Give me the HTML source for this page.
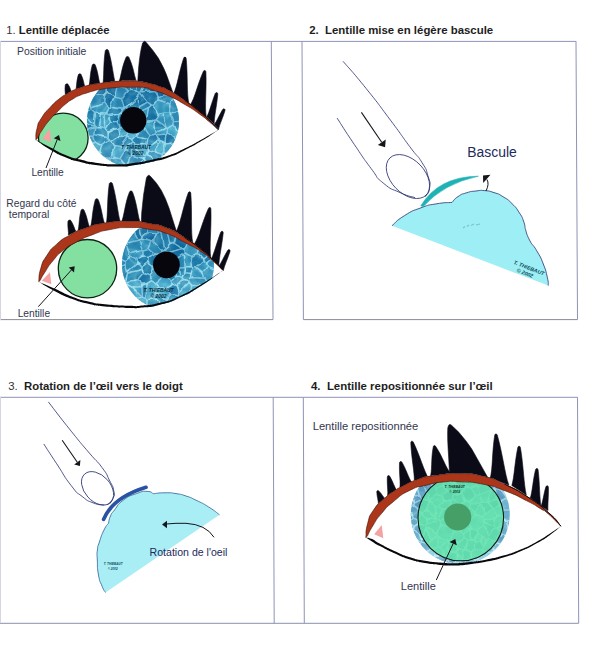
<!DOCTYPE html>
<html lang="fr"><head><meta charset="utf-8"><title>Repositionnement d'une lentille déplacée</title>
<style>
html,body{margin:0;padding:0;background:#fff}
svg{display:block}
text{font-family:"Liberation Sans",Arial,sans-serif}
</style></head><body>
<svg width="600" height="662" viewBox="0 0 600 662">
<defs>
<linearGradient id="irisg" x1="0" y1="0" x2="0" y2="1"><stop offset="0" stop-color="#0a4a8a" stop-opacity="0.32"/><stop offset="0.45" stop-color="#0a4a8a" stop-opacity="0.05"/><stop offset="1" stop-color="#ffffff" stop-opacity="0.12"/></linearGradient>
<filter id="soft" x="-5%" y="-5%" width="110%" height="110%" color-interpolation-filters="sRGB"><feTurbulence type="fractalNoise" baseFrequency="0.09" numOctaves="2" seed="3" result="t"/><feDisplacementMap in="SourceGraphic" in2="t" scale="5" xChannelSelector="R" yChannelSelector="G"/><feGaussianBlur stdDeviation="0.65"/></filter>
<filter id="water" x="0" y="0" width="100%" height="100%" color-interpolation-filters="sRGB">
  <feTurbulence type="turbulence" baseFrequency="0.07" numOctaves="2" seed="11" result="n"/>
  <feColorMatrix in="n" type="matrix" values="1.8 0 0 0 0  1.8 0 0 0 0  1.8 0 0 0 0  0 0 0 0 1"/>
  <feComponentTransfer>
    <feFuncR type="table" tableValues="0.72 0.55 0.40 0.28 0.20 0.15 0.12"/>
    <feFuncG type="table" tableValues="0.96 0.88 0.78 0.68 0.59 0.52 0.47"/>
    <feFuncB type="table" tableValues="0.98 0.94 0.88 0.82 0.76 0.71 0.67"/>
  </feComponentTransfer>
  <feGaussianBlur stdDeviation="0.7"/>
</filter>

<clipPath id="eyeclip1"><path d="M35.8,139.8C36.2,136 35.1,135.8 37,128.5C38.9,121.2 37,125.2 41.5,118C46,110.8 44.3,113.6 50.5,107C56.7,100.4 54.6,102.6 60,98.3C65.4,94 62.3,96.7 66.7,94C71.1,91.3 68.9,92.4 73.3,90.3C77.7,88.2 75.5,89.2 80,87.7C84.5,86.2 82.3,86.8 86.7,85.7C91.1,84.6 88.9,85.1 93.3,84.3C97.7,83.5 92.8,84.2 100,83.3C107.2,82.4 105,82.3 115,81.5C125,80.7 121.7,80.8 130,80.8C138.3,80.8 132.8,80.6 140,81.6C147.2,82.6 145,82.3 151.7,83.9C158.4,85.5 154.5,84.5 160,86.5C165.5,88.5 160,85.3 168.3,90C176.6,94.7 174.4,93.2 185,100.5C195.6,107.8 191.7,105.2 200,112C208.3,118.8 203.9,115.1 210,121C216.1,126.9 215.5,126.7 218.3,129.6C212.8,133.5 212.8,134.1 201.7,140.8C190.6,147.5 196.1,144.4 185,150C173.9,155.6 179.4,153.6 168.3,157.5C157.2,161.4 162.8,159.3 151.7,161.8C140.6,164.3 146.2,163.4 135,165C123.8,166.6 131.2,166.6 118,166.6C104.8,166.6 108,166.5 95.5,165C83,163.5 90.5,164.6 80.5,162C70.5,159.4 75.5,161.4 65.5,157.3C55.5,153.2 60.4,155.6 50.5,149.8C40.6,144 40.7,143.1 35.8,139.8Z"/></clipPath>
<clipPath id="eyeclip2"><path d="M38.7,281.7C39.4,277.2 38.1,276.9 40.8,268.3C43.5,259.7 41.4,263.8 46.7,255.8C52,247.8 48.9,251.1 56.7,244.2C64.5,237.3 60.6,240.3 70,235C79.4,229.7 73.3,232.3 85,228.3C96.7,224.3 90,225.3 105,223C120,220.7 115.6,221.2 130,221.3C144.4,221.4 136.1,221 148.3,223.2C160.5,225.4 154.5,222.9 166.7,227.8C178.9,232.7 173.9,230.9 185,237.8C196.1,244.7 191,241.4 200,248.5C209,255.6 204.3,251.8 212,259C219.7,266.2 219.3,266.5 223,270.2C215.3,275.8 214.3,277.5 200,286.5C185.7,295.5 193.3,291.5 180,297.6C166.7,303.7 173.3,301.4 160,304.8C146.7,308.2 150,306.7 140,307.8C130,308.9 141.7,308.4 130,308C118.3,307.6 118.9,307.9 105,306.5C91.1,305.1 99.4,306.4 88.3,303.8C77.2,301.2 82.8,303 71.7,298.8C60.6,294.6 66,296.9 55,291.2C44,285.5 44.1,284.9 38.7,281.7Z"/></clipPath>
<clipPath id="eyeclip4"><path d="M365.8,537.5C366.4,532.8 365.1,532.5 367.7,523.3C370.3,514.1 368,518.3 373.6,510C379.2,501.7 377.5,504.8 384.6,498.3C391.7,491.8 389.3,494.4 395,490.5C400.7,486.6 393.9,490.5 401.7,486.7C409.5,482.9 407.2,482.9 418.3,479.2C429.4,475.5 421.1,477.5 435,475.6C448.9,473.7 443.7,473.3 460,473.6C476.3,473.9 469,472.8 484,476.4C499,480 490.8,477.7 505,484.3C519.2,490.9 512.3,486.9 526.7,496.3C541.1,505.7 536.9,502.6 548.3,512.5C559.7,522.4 556.6,521.5 560.8,526C557.2,529.2 558,529.2 550,534.9C542,540.6 546.7,537.7 536.7,543.3C526.7,548.9 531.1,546.9 520,551.6C508.9,556.3 514.4,554.2 503.3,557.5C492.2,560.8 497.8,559.4 486.7,561.6C475.6,563.8 480.6,562.9 470,564.2C459.4,565.5 465,565.2 455,565.4C445,565.6 450,565.7 440,564.9C430,564.1 435,564.9 425,563.1C415,561.3 420,562.8 410,559.6C400,556.4 405,558.1 395,553.6C385,549.1 387.7,550.2 380,546.1C372.3,542 376.7,544.3 372,541.4C367.3,538.5 367.9,538.8 365.8,537.5Z"/></clipPath>
<clipPath id="iris1"><circle cx="133" cy="121" r="46"/></clipPath>
<clipPath id="iris2"><circle cx="168" cy="264" r="46"/></clipPath>
<clipPath id="iris4"><circle cx="460.2" cy="514.5" r="49.4"/></clipPath>
</defs>
<rect width="600" height="662" fill="#ffffff"/>
<g fill="none" stroke="#8e93b8" stroke-width="1">
<path d="M0,41.4H576.2"/>
<path d="M271.3,41.4L273,319.6"/><path d="M302,41.4L303.4,319.6"/><path d="M576,41.4L577.5,319.6"/>
<path d="M0,397.3H577.6"/>
<path d="M273.2,397.3L274.2,623.3"/><path d="M303.3,397.3L304.3,623.3"/><path d="M577.5,397.3L578.7,623.3"/>
<path d="M0,623.3H578.7" stroke="#8a90b0"/>
</g>
<g fill="none" stroke="#8c8c96" stroke-width="1"><path d="M0,319.6H273"/><path d="M303.4,319.6H577.5"/></g>
<path d="M0.5,41V320M0.5,397V623" stroke="#d4d6e2" stroke-width="1" fill="none"/>
<g font-size="11.4" fill="#1d1d22">
<text x="6.3" y="34.2" textLength="103.2" lengthAdjust="spacingAndGlyphs"><tspan fill="#333">1. </tspan><tspan font-weight="bold">Lentille déplacée</tspan></text>
<text x="309.2" y="34" font-weight="bold" textLength="184" lengthAdjust="spacingAndGlyphs" xml:space="preserve">2.  Lentille mise en légère bascule</text>
<text x="8.3" y="389.6" textLength="174.4" lengthAdjust="spacingAndGlyphs" xml:space="preserve"><tspan fill="#333">3.  </tspan><tspan font-weight="bold">Rotation de l’œil vers le doigt</tspan></text>
<text x="311" y="389.8" font-weight="bold" textLength="181.7" lengthAdjust="spacingAndGlyphs" xml:space="preserve">4.  Lentille repositionnée sur l’œil</text>
</g>
<g>
<g fill="#0a0b16" stroke="#0a0b16" stroke-width="0.6" stroke-linejoin="round">
<path d="M65.3,97C65.7,94.4 64.6,90.4 65.2,85.8C65.1,83.6 67.8,83.1 68.5,85.1C70.5,88.2 70.8,91.3 72,93Z"/>
<path d="M75.6,91C76.8,87.6 76.3,81.8 78.1,75.6C78.3,73.4 81,73.2 81.5,75.4C83.9,80.6 84,85.6 85.5,88.5Z"/>
<path d="M88.8,87C90.2,82.3 89.8,74.3 92.1,65.7C92.3,63.6 95,63.4 95.5,65.6C98.4,73.5 98.7,81.2 100.5,85.5Z"/>
<path d="M102.8,85C104.1,77.5 103.2,64.8 105.2,51.2C105.4,49 108.1,48.8 108.6,50.9C112.4,63.9 113.2,76.4 115.5,83.5Z"/>
<path d="M118.3,83.5C121.1,77.9 121.3,68.3 125.8,58.1C126.1,55.9 128.8,55.9 129.2,58C133.9,68.2 134.4,77.9 137.3,83.5Z"/>
<path d="M173.5,94C177.3,86.3 178.9,72.5 183.6,58.3C184,56.6 186.1,56.8 186.2,58.5C187.9,76.4 186.6,93.1 188.8,103Z"/>
<path d="M190.3,105C194.9,97.9 197.4,84.8 203.3,71.5C203.8,69.8 205.9,70.2 205.9,71.9C206.7,90.1 204.5,106.8 206.3,117Z"/>
<path d="M206.8,117C209.5,112 211.5,102.9 215.2,93.6C215.9,92 217.9,92.4 217.8,94.2C216.7,106.2 214.1,117.2 214.2,124Z"/>
<path d="M214.3,124.5C216.7,121.5 219.1,115.5 222.6,109.6C223.6,108.1 225.5,108.9 225,110.6C222.7,118.1 219.5,124.7 218.6,129Z"/>
<path d="M137.6,84L138.6,68Q140,52 142.6,43Q144.3,39.8 146.3,42.5Q153,50 158.3,58Q165,69.5 168.3,79.7L173,93Z"/>
</g>
<path d="M35.8,139.8C36.2,136 35.1,135.8 37,128.5C38.9,121.2 37,125.2 41.5,118C46,110.8 44.3,113.6 50.5,107C56.7,100.4 54.6,102.6 60,98.3C65.4,94 62.3,96.7 66.7,94C71.1,91.3 68.9,92.4 73.3,90.3C77.7,88.2 75.5,89.2 80,87.7C84.5,86.2 82.3,86.8 86.7,85.7C91.1,84.6 88.9,85.1 93.3,84.3C97.7,83.5 92.8,84.2 100,83.3C107.2,82.4 105,82.3 115,81.5C125,80.7 121.7,80.8 130,80.8C138.3,80.8 132.8,80.6 140,81.6C147.2,82.6 145,82.3 151.7,83.9C158.4,85.5 154.5,84.5 160,86.5C165.5,88.5 160,85.3 168.3,90C176.6,94.7 174.4,93.2 185,100.5C195.6,107.8 191.7,105.2 200,112C208.3,118.8 203.9,115.1 210,121C216.1,126.9 215.5,126.7 218.3,129.6C212.8,133.5 212.8,134.1 201.7,140.8C190.6,147.5 196.1,144.4 185,150C173.9,155.6 179.4,153.6 168.3,157.5C157.2,161.4 162.8,159.3 151.7,161.8C140.6,164.3 146.2,163.4 135,165C123.8,166.6 131.2,166.6 118,166.6C104.8,166.6 108,166.5 95.5,165C83,163.5 90.5,164.6 80.5,162C70.5,159.4 75.5,161.4 65.5,157.3C55.5,153.2 60.4,155.6 50.5,149.8C40.6,144 40.7,143.1 35.8,139.8Z" fill="#fff"/>
<g clip-path="url(#eyeclip1)">
<circle cx="63.3" cy="138" r="24.8" fill="#84e0a0" stroke="#0c2416" stroke-width="1.3"/>
<polygon points="42.2,139 49.7,128.5 51.3,142" fill="#f4a3a4"/>
<g clip-path="url(#iris1)">
<rect x="85" y="73" width="96" height="96" fill="#8fd2e8"/>
<g filter="url(#soft)" stroke="#a9e3f1" stroke-width="1.35" stroke-linejoin="round">
<polygon points="119.2,63.3 109.9,68 108.3,71.6 111.3,76.1 117.5,76.3 125.2,67.9 122.5,64.1" fill="#2886b0"/>
<polygon points="142,68.8 133.9,64.1 126,68.2 130.5,75.4 134.8,75.2" fill="#116a9c"/>
<polygon points="146.4,65.9 148.2,63.5 150.7,61.3 160.5,69.7 160.6,72 156,79" fill="#2885b0"/>
<polygon points="110.4,82.9 111.3,76.1 108.3,71.6 93.8,71.6 93.2,71.9 92.8,72.5 96.2,83.7 107.3,87.2" fill="#1e7aa7"/>
<polygon points="130,75.9 130.5,75.4 126,68.2 125.2,67.9 117.5,76.3 122.4,79.3" fill="#217eaa"/>
<polygon points="143.4,68.6 146.5,80.1 146.4,80.3 136.5,79.4 134.8,75.2 142,68.8" fill="#1f7ba8"/>
<polygon points="143.4,68.6 146.4,65.9 156,79 155.7,80.9 146.5,80.1" fill="#1570a0"/>
<polygon points="155.7,80.9 156.9,82.9 164.1,82.8 166.6,77.1 160.6,72 156,79" fill="#3494ba"/>
<polygon points="117.2,86.6 123.7,87.5 122.4,79.3 117.5,76.3 111.3,76.1 110.4,82.9" fill="#2b89b2"/>
<polygon points="130,75.9 130,90.3 127,91 123.7,87.5 122.4,79.3" fill="#1671a0"/>
<polygon points="136.5,79.4 137,91 130,90.3 130,75.9 130.5,75.4 134.8,75.2" fill="#1e7aa7"/>
<polygon points="136.5,79.4 137,91 140.3,92.6 141.5,91.8 146.4,80.3" fill="#0f689a"/>
<polygon points="146.5,80.1 155.7,80.9 156.9,82.9 155.8,87.9 154.5,90.5 141.5,91.8 146.4,80.3" fill="#0a6296"/>
<polygon points="164.9,90.2 155.8,87.9 156.9,82.9 164.1,82.8 167.5,86.1" fill="#116a9c"/>
<polygon points="168.5,76.6 166.6,77.1 164.1,82.8 167.5,86.1 173.1,86.5 174.5,85.2 168.9,76.7" fill="#2f8fb6"/>
<polygon points="83.3,89.8 94.1,88.1 96.3,94.7 90.4,101.9 81.1,94.6 82.4,91" fill="#10699b"/>
<polygon points="107.3,87.2 96.2,83.7 94.1,88.1 96.3,94.7 105.2,95 107.3,93.5" fill="#116a9c"/>
<polygon points="117.2,86.6 114.2,97.1 107.3,93.5 107.3,87.2 110.4,82.9" fill="#0a6296"/>
<polygon points="117.2,86.6 123.7,87.5 127,91 121.7,98.9 114.2,97.1 114.2,97.1" fill="#399abf"/>
<polygon points="151.4,105.2 147.8,102.2 140.3,92.9 140.3,92.6 141.5,91.8 154.5,90.5 158.3,97.8 158.1,100 153.7,105.5" fill="#126c9d"/>
<polygon points="164.9,90.2 155.8,87.9 154.5,90.5 158.3,97.8 164.7,93.7" fill="#0d6698"/>
<polygon points="164.9,90.2 167.5,86.1 173.1,86.5 173.4,97.2 164.7,93.7" fill="#2a89b2"/>
<polygon points="176.8,98.9 174.2,98.6 173.4,97.2 173.1,86.5 174.5,85.2 178.5,83.5 181,88.7 181.4,95.2" fill="#0a6296"/>
<polygon points="76.2,99.8 81,111.2 85.2,112.8 91.5,108.8 91.7,107.2 90.4,101.9 81.1,94.6 78.7,95.4" fill="#3393b9"/>
<polygon points="96.3,94.7 90.4,101.9 91.7,107.2 103.7,102.2 105.2,95" fill="#2d8cb4"/>
<polygon points="107.3,93.5 105.2,95 103.7,102.2 108,107.7 109.5,107 114.2,97.1 114.2,97.1" fill="#0a6296"/>
<polygon points="122.8,109.5 109.5,107 114.2,97.1 121.7,98.9 124.3,108.1" fill="#3292b9"/>
<polygon points="127,91 121.7,98.9 124.3,108.1 125.6,108.3 138.2,97.6 140.3,92.9 140.3,92.6 137,91 130,90.3" fill="#116a9c"/>
<polygon points="138.5,107.2 147.8,102.2 140.3,92.9 138.2,97.6" fill="#0b6397"/>
<polygon points="164.7,93.7 158.3,97.8 158.1,100 170,103.8 174.2,98.6 173.4,97.2" fill="#2e8db5"/>
<polygon points="95.6,112.2 91.5,108.8 91.7,107.2 103.7,102.2 108,107.7 105.8,113.6 104.3,114 101.7,114.1" fill="#3b9cc0"/>
<polygon points="122.8,109.5 121.1,112.7 119.2,114.4 108.6,115.5 105.8,113.6 108,107.7 109.5,107" fill="#1c78a6"/>
<polygon points="125.6,108.3 138.2,97.6 138.5,107.2 137,113.2 136.1,114.3" fill="#1671a0"/>
<polygon points="148.6,107.7 137,113.2 138.5,107.2 147.8,102.2 151.4,105.2" fill="#237fab"/>
<polygon points="148.6,107.7 137,113.2 136.1,114.3 137.2,118.3 142.8,122.8 146.3,121.5" fill="#3595bb"/>
<polygon points="153.7,105.5 158.1,100 170,103.8 169.6,112.7 164.2,113.4 158.2,113.8" fill="#3d9fc2"/>
<polygon points="186.3,108.6 171.2,114 169.6,112.7 170,103.8 174.2,98.6 176.8,98.9" fill="#2d8bb4"/>
<polygon points="94.4,123.9 95.6,112.2 91.5,108.8 85.2,112.8 84.4,117.2" fill="#207ca9"/>
<polygon points="95,126.2 95.6,127 95.8,127.1 99.3,126.6 101.7,114.1 95.6,112.2 94.4,123.9" fill="#2582ad"/>
<polygon points="110.5,122.3 108.6,115.5 105.8,113.6 104.3,114 104.6,127.9 106.1,128.7" fill="#3b9dc1"/>
<polygon points="117.1,122.7 119.2,114.4 108.6,115.5 110.5,122.3" fill="#1974a3"/>
<polygon points="122.8,109.5 121.1,112.7 127.3,125.7 137.2,118.3 136.1,114.3 125.6,108.3 124.3,108.1" fill="#1f7ba8"/>
<polygon points="148.6,107.7 146.3,121.5 154.8,120.1 155.4,119.7 158.2,113.8 153.7,105.5 151.4,105.2" fill="#136d9e"/>
<polygon points="171.2,114 173.6,121.8 172.8,124 166.9,127.9 166.4,127.8 164.5,126.2 164.2,113.4 169.6,112.7" fill="#42a5c6"/>
<polygon points="187.7,109 186.3,108.6 171.2,114 173.6,121.8 185,121 186.3,120.5 187.8,109.1" fill="#3696bc"/>
<polygon points="81.5,132.3 95.6,127 95,126.2 81.5,123.2 78.2,127.1 79.3,130.8 79.6,131.3" fill="#1a75a3"/>
<polygon points="95,126.2 81.5,123.2 84.4,117.2 94.4,123.9" fill="#3797bd"/>
<polygon points="104.6,127.9 104.3,114 101.7,114.1 99.3,126.6" fill="#40a2c5"/>
<polygon points="118.8,127.7 108.3,132.7 106.1,128.7 110.5,122.3 117.1,122.7 119.4,126.8" fill="#1d79a6"/>
<polygon points="119.4,126.8 126.8,126.5 127.3,125.7 121.1,112.7 119.2,114.4 117.1,122.7" fill="#1d79a7"/>
<polygon points="142.8,125.2 138.1,130.9 127.7,128.7 126.8,126.5 127.3,125.7 137.2,118.3 142.8,122.8" fill="#1c78a6"/>
<polygon points="146.3,121.5 142.8,122.8 142.8,125.2 149.1,135 154.7,134.7 155.7,132.7 154.8,120.1" fill="#3c9ec2"/>
<polygon points="154.8,120.1 155.7,132.7 166.4,127.8 164.5,126.2 155.4,119.7" fill="#2683ae"/>
<polygon points="158.2,113.8 164.2,113.4 164.5,126.2 155.4,119.7" fill="#3b9cc0"/>
<polygon points="181.3,132 179.9,132.8 179.2,132.8 172.8,124 173.6,121.8 185,121" fill="#227fab"/>
<polygon points="181.3,132 185,121 186.3,120.5 189.1,122.9 188.7,131.4" fill="#3797bd"/>
<polygon points="94.9,134.7 95.8,127.1 95.6,127 81.5,132.3 85.8,136.5 93.8,136.1" fill="#43a6c8"/>
<polygon points="94.9,134.7 95.8,127.1 99.3,126.6 104.6,127.9 106.1,128.7 108.3,132.7 108.2,138" fill="#2987b1"/>
<polygon points="108.2,138 108.3,132.7 118.8,127.7 120,136 111.7,141.5 108.7,139.7" fill="#1873a2"/>
<polygon points="118.8,127.7 120,136 128,137.1 127.7,128.7 126.8,126.5 119.4,126.8" fill="#3fa2c4"/>
<polygon points="128.2,137.4 132.9,139.5 136.6,136.1 138.1,130.9 127.7,128.7 128,137.1" fill="#44a7c8"/>
<polygon points="142.8,125.2 138.1,130.9 136.6,136.1 146.9,138.3 149.1,135" fill="#2582ad"/>
<polygon points="155.7,132.7 166.4,127.8 166.9,127.9 167.4,133 165.9,135.2 156,136.2 154.7,134.7" fill="#40a2c4"/>
<polygon points="167.4,133 166.9,127.9 172.8,124 179.2,132.8 177.2,135.9 174.8,138" fill="#46a9ca"/>
<polygon points="181.3,132 179.9,132.8 189.3,143 191,141.6 192.8,135.7 188.7,131.4" fill="#45a8c9"/>
<polygon points="93.8,136.1 85.8,136.5 86.3,145.1 86.9,146 95.5,142.3" fill="#42a5c7"/>
<polygon points="94.9,134.7 108.2,138 108.7,139.7 100.7,145.3 95.5,142.3 93.8,136.1" fill="#2987b1"/>
<polygon points="128.2,137.4 121.2,146.7 114.2,145.5 111.7,141.5 120,136 128,137.1" fill="#227fab"/>
<polygon points="128.2,137.4 132.9,139.5 133.5,141.2 124.1,149.7 121.2,146.7" fill="#1e7aa8"/>
<polygon points="132.9,139.5 136.6,136.1 146.9,138.3 146,143.7 134.9,143.4 133.5,141.2" fill="#1e7aa7"/>
<polygon points="157.8,140.6 156,136.2 154.7,134.7 149.1,135 146.9,138.3 146,143.7 148,148" fill="#207ca9"/>
<polygon points="160.5,143 165,144.1 165.1,144 165.9,135.2 156,136.2 157.8,140.6" fill="#1873a2"/>
<polygon points="167.4,133 174.8,138 173.7,142.9 165.1,144 165.9,135.2" fill="#10699b"/>
<polygon points="174.8,138 177.2,135.9 186.1,144.6 176.8,146.7 173.7,142.9" fill="#227fab"/>
<polygon points="179.2,132.8 177.2,135.9 186.1,144.6 188.2,144.5 189.3,143 179.9,132.8" fill="#1670a0"/>
<polygon points="95.5,142.3 86.9,146 87.4,152.5 87.5,152.6 99.1,152.5 100.7,145.3" fill="#3c9ec1"/>
<polygon points="100.7,145.3 99.1,152.5 101.9,156.8 108.3,158.3 109.8,158.2 111.3,157.2 114.2,145.5 111.7,141.5 108.7,139.7" fill="#2a88b1"/>
<polygon points="121.2,146.7 124.1,149.7 124.7,150.7 120,159 111.3,157.2 114.2,145.5" fill="#4bafce"/>
<polygon points="133.5,141.2 134.9,143.4 134.8,147.6 129.9,152.6 124.7,150.7 124.1,149.7" fill="#3899be"/>
<polygon points="145.6,156.4 134.8,147.6 129.9,152.6 130.7,154.9 143.4,158.9" fill="#217eaa"/>
<polygon points="148.6,152.4 147.1,155.6 145.6,156.4 134.8,147.6 134.9,143.4 146,143.7 148,148" fill="#399abe"/>
<polygon points="160.5,143 154.7,150.8 148.6,152.4 148,148 157.8,140.6" fill="#3393ba"/>
<polygon points="160.5,143 165,144.1 165,152.9 163.9,153.5 154.7,150.8" fill="#49adcc"/>
<polygon points="165.1,144 165,144.1 165,152.9 172.8,156.3 176.2,150.3 176.8,146.7 173.7,142.9" fill="#3a9cc0"/>
<polygon points="101.9,156.8 99.1,152.5 87.5,152.6 92.2,163.2 93.9,163.4 97.5,162.6" fill="#2482ad"/>
<polygon points="126.4,165.9 127.1,165.9 130.7,154.9 129.9,152.6 124.7,150.7 120,159 125.5,165.3" fill="#1f7aa8"/>
<polygon points="143.4,158.9 130.7,154.9 127.1,165.9 133,168.3 143.2,159.4" fill="#2d8cb4"/>
<polygon points="154.7,150.8 163.9,153.5 159.8,160.8 155.6,161.7 147.1,155.6 148.6,152.4" fill="#2784af"/>
<polygon points="172.8,156.3 165,152.9 163.9,153.5 159.8,160.8 164.5,164.3 173.2,162.3 173.3,157.9" fill="#227fab"/>
<polygon points="101.1,170.8 97.5,162.6 101.9,156.8 108.3,158.3 103.6,170.2" fill="#44a7c8"/>
<polygon points="103.6,170.2 110.2,172.3 112.2,170.3 112.7,167.1 109.8,158.2 108.3,158.3" fill="#2987b0"/>
<polygon points="112.7,167.1 109.8,158.2 111.3,157.2 120,159 125.5,165.3" fill="#3494ba"/>
<polygon points="148.5,173.2 155,169.7 155.6,161.7 147.1,155.6 145.6,156.4 143.4,158.9 143.2,159.4 148.4,173.2" fill="#2c8ab3"/>
<polygon points="155,169.7 161.9,173 162.7,172.7 164.5,164.3 159.8,160.8 155.6,161.7" fill="#3b9dc0"/>
<polygon points="112.2,170.3 121.2,173.5 126.4,165.9 125.5,165.3 112.7,167.1" fill="#227fab"/>
<polygon points="126.4,165.9 127.1,165.9 133,168.3 135.4,174 133.9,182.2 124.7,183.2 123.4,183 121,178.5 121.2,173.5" fill="#2e8db5"/>
<polygon points="148.4,173.2 135.4,174 133,168.3 143.2,159.4" fill="#2885b0"/>
</g>
<rect x="85" y="73" width="96" height="96" filter="url(#water)" opacity="0.30"/>
<rect x="85" y="73" width="96" height="96" fill="url(#irisg)"/>
</g>
<circle cx="133.3" cy="120.3" r="13.2" fill="#06060c"/>
</g>
<path d="M35.8,139.8C36.2,136 35.1,135.8 37,128.5C38.9,121.2 37,125.2 41.5,118C46,110.8 44.3,113.6 50.5,107C56.7,100.4 54.6,102.6 60,98.3C65.4,94 62.3,96.7 66.7,94C71.1,91.3 68.9,92.4 73.3,90.3C77.7,88.2 75.5,89.2 80,87.7C84.5,86.2 82.3,86.8 86.7,85.7C91.1,84.6 88.9,85.1 93.3,84.3C97.7,83.5 92.8,84.2 100,83.3C107.2,82.4 105,82.3 115,81.5C125,80.7 121.7,80.8 130,80.8C138.3,80.8 132.8,80.6 140,81.6C147.2,82.6 145,82.3 151.7,83.9C158.4,85.5 154.5,84.5 160,86.5C165.5,88.5 160,85.3 168.3,90C176.6,94.7 174.4,93.2 185,100.5C195.6,107.8 191.7,105.2 200,112C208.3,118.8 203.9,115.1 210,121C216.1,126.9 215.5,126.7 218.3,129.6C215.2,127.1 215.1,126.8 209,121.6C202.9,116.4 208,120.1 200,114.4C192,108.7 195.6,110.8 185,104.6C174.4,98.4 179.4,100.7 168.3,95.7C157.2,90.7 159.5,92.4 151.7,89.7C143.9,87 152.2,88.4 145,87.6C137.8,86.8 140,87.2 130,87.2C120,87.2 125,86.8 115,87.6C105,88.4 107.2,88.4 100,89.5C92.8,90.6 97.7,89.8 93.3,91C88.9,92.2 91.1,91.6 86.7,93C82.3,94.4 84.5,93.4 80,95.3C75.5,97.2 78.2,95.7 73.3,98.7C68.4,101.7 70.4,100.1 65.3,104.3C60.2,108.5 62.9,106.4 58,111.3C53.1,116.2 55.5,113.2 50.5,119C45.5,124.8 47.4,122.3 43,128.8C38.6,135.3 39.3,135.2 37.4,138.4Z" fill="#ab361a" stroke="#3c1106" stroke-width="0.6" stroke-linejoin="round"/>
<path d="M185,100.5C190,104.3 191.7,105.2 200,112C208.3,118.8 203.9,115.1 210,121C216.1,126.9 215.5,126.7 218.3,129.6" fill="none" stroke="#14080a" stroke-width="1" stroke-linecap="round"/>
<path d="M35.8,139.8C40.7,143.1 40.6,144 50.5,149.8C60.4,155.6 55.5,153.2 65.5,157.3C75.5,161.4 70.5,159.4 80.5,162C90.5,164.6 83,163.5 95.5,165C108,166.5 104.8,166.6 118,166.6C131.2,166.6 123.8,166.6 135,165C146.2,163.4 140.6,164.3 151.7,161.8C162.8,159.3 157.2,161.4 168.3,157.5C179.4,153.6 173.9,155.6 185,150C196.1,144.4 190.6,147.5 201.7,140.8C212.8,134.1 212.8,133.5 218.3,129.9C212.8,133.1 212.8,133.2 201.7,139.4C190.6,145.5 196.1,142.9 185,148.3C173.9,153.7 179.4,151.8 168.3,155.6C157.2,159.4 162.8,157.3 151.7,159.7C140.6,162.1 146.2,161.3 135,162.8C123.8,164.3 131.2,164.4 118,164.3C104.8,164.3 108,164.2 95.5,162.7C83,161.1 90.5,162.2 80.5,159.6C70.5,157 75.5,159 65.5,154.9C55.5,150.8 60.4,152.4 50.5,147.4C40.6,142.4 40.7,142.3 35.8,139.8Z" fill="#08080c"/>
</g>
<g>
<g fill="#0a0b16" stroke="#0a0b16" stroke-width="0.6" stroke-linejoin="round">
<path d="M68.4,235C68.8,232 67.5,227.3 67.9,222C67.8,219.8 70.5,219.2 71.3,221.3C73.8,225.2 74.5,229.4 76,231.5Z"/>
<path d="M78,230.5C79.4,226.2 78.8,218.8 80.9,211C81.1,208.8 83.8,208.6 84.3,210.8C87.4,217.2 87.7,223.5 89.6,227Z"/>
<path d="M90.6,226.5C92.4,220.7 92.2,210.9 95.1,200.4C95.3,198.2 98,198.2 98.5,200.3C102,209.5 102.4,218.4 104.6,223.5Z"/>
<path d="M106.4,223.5C107.9,214.8 107,200 109.2,184.2C109.4,182 112.1,181.8 112.6,184C116.8,199.1 117.8,213.7 120.3,222Z"/>
<path d="M121.5,222C124.4,215.5 124.7,204.3 129.3,192.6C129.6,190.4 132.4,190.4 132.7,192.6C137.4,204.9 137.7,216.7 140.6,223.5Z"/>
<path d="M176,232C180.5,223.6 182.6,208.5 188.2,193C188.7,191.3 190.8,191.5 190.8,193.3C192.3,213.2 190.6,231.9 192.8,243Z"/>
<path d="M194.3,244C199.2,236.5 202,222.6 208.4,208.5C208.9,206.8 211,207.2 210.9,208.9C211.6,228.7 209,246.9 210.8,258Z"/>
<path d="M211.5,258.5C214.4,252.9 216.7,242.7 220.7,232.3C221.4,230.7 223.4,231.1 223.2,232.9C221.8,246.2 218.9,258.5 218.8,266Z"/>
<path d="M219,266C221.4,262.8 224,256.5 227.6,250.4C228.6,248.9 230.5,249.7 230,251.4C227.6,259 224.3,265.8 223.4,270.2Z"/>
<path d="M141.2,225L141.7,213Q143,195 146.4,178Q148.2,173.6 150.4,176.3Q157,183 161.2,190.2Q166,199 169,208L176.6,232Z"/>
</g>
<path d="M38.7,281.7C39.4,277.2 38.1,276.9 40.8,268.3C43.5,259.7 41.4,263.8 46.7,255.8C52,247.8 48.9,251.1 56.7,244.2C64.5,237.3 60.6,240.3 70,235C79.4,229.7 73.3,232.3 85,228.3C96.7,224.3 90,225.3 105,223C120,220.7 115.6,221.2 130,221.3C144.4,221.4 136.1,221 148.3,223.2C160.5,225.4 154.5,222.9 166.7,227.8C178.9,232.7 173.9,230.9 185,237.8C196.1,244.7 191,241.4 200,248.5C209,255.6 204.3,251.8 212,259C219.7,266.2 219.3,266.5 223,270.2C215.3,275.8 214.3,277.5 200,286.5C185.7,295.5 193.3,291.5 180,297.6C166.7,303.7 173.3,301.4 160,304.8C146.7,308.2 150,306.7 140,307.8C130,308.9 141.7,308.4 130,308C118.3,307.6 118.9,307.9 105,306.5C91.1,305.1 99.4,306.4 88.3,303.8C77.2,301.2 82.8,303 71.7,298.8C60.6,294.6 66,296.9 55,291.2C44,285.5 44.1,284.9 38.7,281.7Z" fill="#fff"/>
<g clip-path="url(#eyeclip2)">
<circle cx="87.5" cy="268.7" r="29.2" fill="#84e0a0" stroke="#0c2416" stroke-width="1.3"/>
<polygon points="41.7,280.8 50,272.2 51.3,284.2" fill="#f4a3a4"/>
<g clip-path="url(#iris2)">
<rect x="120.2" y="217" width="96" height="96" fill="#8fd2e8"/>
<g filter="url(#soft)" stroke="#a9e3f1" stroke-width="1.35" stroke-linejoin="round">
<polygon points="151.9,215.5 143.1,221.7 136,220.3 134.2,217.5 138.7,208.8 143,206 144.5,206" fill="#136d9e"/>
<polygon points="163.7,203.6 168.5,216.8 162.6,225 158,221.8 153.4,216.2" fill="#0c6598"/>
<polygon points="185,220.9 195.4,215.3 194.2,211.4 183.2,207 180.8,211.5" fill="#2987b1"/>
<polygon points="135,226.5 136,220.3 143.1,221.7 143.4,225.7 140.2,229" fill="#0d6598"/>
<polygon points="151.9,215.5 143.1,221.7 143.4,225.7 147.2,228.2 158,221.8 153.4,216.2" fill="#0e6799"/>
<polygon points="171.3,229.2 177.1,224.6 179.1,212.7 171.5,215.2 168.5,216.8 162.6,225 163.4,226.9 166.1,228.1" fill="#207da9"/>
<polygon points="185.3,223.7 177.1,224.6 179.1,212.7 180.8,211.5 185,220.9" fill="#156f9f"/>
<polygon points="185.3,223.7 186.4,225 189.3,225.9 197.9,220 195.4,215.3 185,220.9" fill="#3292b9"/>
<polygon points="139.3,240.1 140.9,239 142.1,236.2 140.2,229 135,226.5 132.6,228.6 138.5,240" fill="#0a6296"/>
<polygon points="140.2,229 143.4,225.7 147.2,228.2 146.5,232.9 142.1,236.2" fill="#146e9f"/>
<polygon points="156.8,234.2 146.5,232.9 147.2,228.2 158,221.8 162.6,225 163.4,226.9 161.4,230.1" fill="#3392b9"/>
<polygon points="171.3,229.2 177.1,224.6 185.3,223.7 186.4,225 180.3,234.4 177.1,234" fill="#116a9c"/>
<polygon points="194,237.7 189.3,225.9 186.4,225 180.3,234.4 189.1,240.6 192.6,239.4" fill="#2a88b1"/>
<polygon points="202.7,222.5 197.9,220 189.3,225.9 194,237.7 195.9,236.9 204.3,225.8" fill="#1d79a7"/>
<polygon points="138.5,240 126.4,243.5 126.2,243.4 128.1,229.2 132.6,228.6" fill="#3798bd"/>
<polygon points="140.9,239 151.9,241.9 153.5,241.4 156.8,234.2 146.5,232.9 142.1,236.2" fill="#0b6397"/>
<polygon points="166.1,228.1 163.4,226.9 161.4,230.1 164.7,250 170,244.7" fill="#207da9"/>
<polygon points="171.3,229.2 177.1,234 174.3,243.3 170,244.7 166.1,228.1" fill="#1570a0"/>
<polygon points="204.6,240 195.9,236.9 204.3,225.8 210,228.1 205.7,240.2" fill="#2a89b2"/>
<polygon points="205.7,240.2 210,228.1 210.9,228.2 212.6,230.1 214.4,238.7 211.3,244.5" fill="#3898bd"/>
<polygon points="142.4,249.7 139.3,240.1 138.5,240 126.4,243.5 129.7,253.1" fill="#2d8bb4"/>
<polygon points="142.4,249.7 139.3,240.1 140.9,239 151.9,241.9 149,248.7 142.9,250.3" fill="#3b9dc1"/>
<polygon points="153.5,241.4 151.9,241.9 149,248.7 155.3,254.3 160.4,253.9 162.5,251.2" fill="#3596bb"/>
<polygon points="156.8,234.2 153.5,241.4 162.5,251.2 164.5,250.3 164.7,250 161.4,230.1" fill="#1e7aa7"/>
<polygon points="170,244.7 164.7,250 164.5,250.3 168.6,252.6 182.4,248.6 174.3,243.3" fill="#146e9f"/>
<polygon points="174.3,243.3 182.4,248.6 183.8,249 189.1,240.6 180.3,234.4 177.1,234" fill="#0a6296"/>
<polygon points="204.6,240 195.9,236.9 194,237.7 192.6,239.4 199.4,250.2 199.9,250" fill="#1a75a4"/>
<polygon points="204.6,240 199.9,250 211.9,248.1 211.3,244.5 205.7,240.2" fill="#1873a2"/>
<polygon points="125,261.6 129.8,257.2 129.7,253.1 126.4,243.5 126.2,243.4 125.4,243.3 112.1,252.9 115.5,257.5" fill="#2987b1"/>
<polygon points="135.7,259.7 143.3,255.2 142.9,250.3 142.4,249.7 129.7,253.1 129.8,257.2" fill="#3ea0c3"/>
<polygon points="142.9,250.3 149,248.7 155.3,254.3 147.9,258.9 143.3,255.2" fill="#2582ad"/>
<polygon points="175,259.9 183.4,254.1 184.5,252.7 183.8,249 182.4,248.6 168.6,252.6" fill="#126c9d"/>
<polygon points="192.6,239.4 189.1,240.6 183.8,249 184.5,252.7 191.3,256.7 198.3,253.4 199.4,250.2" fill="#3596bc"/>
<polygon points="199.9,250 199.4,250.2 198.3,253.4 202.8,259.2 211,252.4 212.2,248.4 211.9,248.1" fill="#1c77a5"/>
<polygon points="211,252.4 212.2,248.4 220.2,250.4 218.6,262.5 211.8,259.4" fill="#2e8db5"/>
<polygon points="125,261.6 115.5,257.5 113.1,265.3 116,268.2 124.9,264.7" fill="#3090b7"/>
<polygon points="125,261.6 129.8,257.2 135.7,259.7 137.3,263.3 127.4,272 124.9,264.7" fill="#2f8eb6"/>
<polygon points="135.7,259.7 143.3,255.2 147.9,258.9 147.9,262.5 141.2,267.5 137.3,263.3" fill="#0f689a"/>
<polygon points="160.6,255.7 156.3,264.3 153.2,266.8 147.9,262.5 147.9,258.9 155.3,254.3 160.4,253.9" fill="#0f689a"/>
<polygon points="165.6,264.3 162.3,266.8 156.3,264.3 160.6,255.7" fill="#3494ba"/>
<polygon points="162.5,251.2 160.4,253.9 160.6,255.7 165.6,264.3 171.4,266.6 174.3,264.8 175,259.9 168.6,252.6 164.5,250.3" fill="#2481ac"/>
<polygon points="174.3,264.8 178.9,267.2 184.2,266.6 183.4,254.1 175,259.9" fill="#2e8db5"/>
<polygon points="184.6,266.7 184.2,266.6 183.4,254.1 184.5,252.7 191.3,256.7 192.6,267.2" fill="#3c9ec1"/>
<polygon points="202.8,259.2 198.3,253.4 191.3,256.7 192.6,267.2 193.1,267.6 195.8,267.7 203.2,261.4" fill="#1c77a5"/>
<polygon points="211,252.4 202.8,259.2 203.2,261.4 207.2,263.3 211.8,259.4" fill="#1e7aa7"/>
<polygon points="211.8,259.4 218.6,262.5 219.1,263.7 216.5,270.3 208.6,266.4 207.2,263.3" fill="#3393b9"/>
<polygon points="124.9,264.7 127.4,272 127.6,273.4 125.4,281.9 124.6,282.9 122.1,284.6 121.8,284.5 115.5,273.4 116,268.2" fill="#1671a0"/>
<polygon points="137.3,263.3 141.2,267.5 141,269.6 127.6,273.4 127.4,272" fill="#2886b0"/>
<polygon points="141.2,267.5 147.9,262.5 153.2,266.8 153.4,269.2 150.2,276.3 143,273.3 141,269.6" fill="#116a9c"/>
<polygon points="162.3,266.8 160.7,270.8 153.4,269.2 153.2,266.8 156.3,264.3" fill="#3696bc"/>
<polygon points="171.4,266.6 171.2,267.3 166.2,275.8 163.9,276 160.7,270.8 162.3,266.8 165.6,264.3" fill="#1b76a5"/>
<polygon points="179.7,276.2 178.9,267.2 174.3,264.8 171.4,266.6 171.2,267.3 176,276.7" fill="#1974a3"/>
<polygon points="183.4,279.5 188.6,280.7 190.5,277.7 191.4,273.5 184.1,272.6 181.8,277.7" fill="#2886b0"/>
<polygon points="207.2,263.3 208.6,266.4 202.6,273.2 195.8,267.7 203.2,261.4" fill="#3798bd"/>
<polygon points="207.7,282.4 214.6,280.8 217.9,277.4 216.5,270.3 208.6,266.4 202.6,273.2 204.6,278.4" fill="#308fb7"/>
<polygon points="141,269.6 127.6,273.4 125.4,281.9 137.7,279.6 143,273.3" fill="#2582ad"/>
<polygon points="143.3,284.5 137.7,279.6 143,273.3 150.2,276.3 152.1,280.7 147.2,283.4" fill="#156f9f"/>
<polygon points="150.2,276.3 152.1,280.7 155.7,282.9 163.9,276 160.7,270.8 153.4,269.2" fill="#2583ae"/>
<polygon points="176,276.7 171.2,267.3 166.2,275.8 171,280" fill="#0e6799"/>
<polygon points="181.8,277.7 184.1,272.6 184.6,266.7 184.2,266.6 178.9,267.2 179.7,276.2" fill="#2785af"/>
<polygon points="184.6,266.7 192.6,267.2 193.1,267.6 191.4,273.5 184.1,272.6" fill="#126c9d"/>
<polygon points="191.4,273.5 190.5,277.7 204.6,278.4 202.6,273.2 195.8,267.7 193.1,267.6" fill="#3494ba"/>
<polygon points="141.8,287 132.3,286.8 124.6,282.9 125.4,281.9 137.7,279.6 143.3,284.5" fill="#41a4c6"/>
<polygon points="142.4,297.1 141.8,287 143.3,284.5 147.2,283.4 145.9,298.8" fill="#2683ae"/>
<polygon points="171.5,283.1 166.6,288.7 157.8,288.6 155.7,282.9 163.9,276 166.2,275.8 171,280" fill="#46a9ca"/>
<polygon points="183.4,279.5 177.2,285.8 171.5,283.1 171,280 176,276.7 179.7,276.2 181.8,277.7" fill="#3190b7"/>
<polygon points="183.4,279.5 188.6,280.7 189.2,282.2 179.3,292.6 177.2,285.8" fill="#2a88b1"/>
<polygon points="191.7,285.3 205.5,285.6 207.7,282.4 204.6,278.4 190.5,277.7 188.6,280.7 189.2,282.2" fill="#2e8db5"/>
<polygon points="142,297.1 132.3,286.8 124.6,282.9 122.1,284.6 125.5,297.6 128.1,301" fill="#3fa2c4"/>
<polygon points="142.4,297.1 142,297.1 132.3,286.8 141.8,287" fill="#3b9dc1"/>
<polygon points="145.9,298.8 148.1,300.3 152.9,297.1 156,293.8 157.8,288.6 155.7,282.9 152.1,280.7 147.2,283.4" fill="#44a8c8"/>
<polygon points="170.3,293.4 166.4,300.2 156,293.8 157.8,288.6 166.6,288.7" fill="#47abcb"/>
<polygon points="177.2,285.8 179.3,292.6 179.3,294.9 170.3,293.4 166.6,288.7 171.5,283.1" fill="#1c78a6"/>
<polygon points="190.8,293.1 191.7,285.3 189.2,282.2 179.3,292.6 179.3,294.9 180.5,296.7 184.4,297.1" fill="#44a7c8"/>
<polygon points="199.7,297.5 204.7,294.1 205.5,285.6 191.7,285.3 190.8,293.1" fill="#45a8c9"/>
<polygon points="219.9,300.8 215.7,302.3 204.7,294.1 205.5,285.6 207.7,282.4 214.6,280.8 222.1,296.4 221.2,299.9" fill="#2784af"/>
<polygon points="142.4,297.1 142,297.1 128.1,301 128.1,304.2 133.5,312.9 139.1,316.1 148,305.6 148.1,300.3 145.9,298.8" fill="#3b9cc0"/>
<polygon points="148.1,300.3 152.9,297.1 163.5,306.2 155,310.5 148,305.6" fill="#2f8eb6"/>
<polygon points="164.4,306.2 163.5,306.2 152.9,297.1 156,293.8 166.4,300.2 167.5,303.8" fill="#2986b0"/>
<polygon points="171.3,304.9 177.3,303 180.5,296.7 179.3,294.9 170.3,293.4 166.4,300.2 167.5,303.8" fill="#2d8cb5"/>
<polygon points="190.2,304.6 186.2,312.6 181.8,311.4 177.3,303 180.5,296.7 184.4,297.1" fill="#4db1d0"/>
<polygon points="199.7,297.5 190.8,293.1 184.4,297.1 190.2,304.6 197.9,303.8" fill="#2886b0"/>
<polygon points="199.7,297.5 204.7,294.1 215.7,302.3 213,307.2 198.4,304.6 197.9,303.8" fill="#1872a2"/>
<polygon points="164.4,306.2 163.5,306.2 155,310.5 157.4,316.2 161.2,317.2 164.5,307" fill="#45a9c9"/>
<polygon points="171.9,317 171.3,304.9 167.5,303.8 164.4,306.2 164.5,307 169.6,319.2" fill="#2481ad"/>
<polygon points="171.9,317 172.7,316.8 178,314.2 181.8,311.4 177.3,303 171.3,304.9" fill="#1873a2"/>
<polygon points="197.9,303.8 198.4,304.6 199.3,316.4 196.6,320.3 192.6,321.5 186.2,312.6 190.2,304.6" fill="#2380ac"/>
<polygon points="148,305.6 155,310.5 157.4,316.2 151.8,322.7 139.7,319.1 139.1,316.1" fill="#2481ad"/>
<polygon points="169.6,319.2 168.5,321 161.2,317.2 164.5,307" fill="#3899be"/>
<polygon points="178,314.2 181.7,321.4 172.7,316.8" fill="#1f7ca8"/>
<polygon points="181.8,311.4 186.2,312.6 192.6,321.5 192.4,321.7 187,324.9 185.7,325 181.7,321.4 178,314.2" fill="#4cb0cf"/>
</g>
<rect x="120.2" y="217" width="96" height="96" filter="url(#water)" opacity="0.30"/>
<rect x="120.2" y="217" width="96" height="96" fill="url(#irisg)"/>
</g>
<circle cx="166.4" cy="264.8" r="13.4" fill="#06060c"/>
</g>
<path d="M38.7,281.7C39.4,277.2 38.1,276.9 40.8,268.3C43.5,259.7 41.4,263.8 46.7,255.8C52,247.8 48.9,251.1 56.7,244.2C64.5,237.3 60.6,240.3 70,235C79.4,229.7 73.3,232.3 85,228.3C96.7,224.3 90,225.3 105,223C120,220.7 115.6,221.2 130,221.3C144.4,221.4 136.1,221 148.3,223.2C160.5,225.4 154.5,222.9 166.7,227.8C178.9,232.7 173.9,230.9 185,237.8C196.1,244.7 191,241.4 200,248.5C209,255.6 204.3,251.8 212,259C219.7,266.2 219.3,266.5 223,270.2C219.3,267.1 219.7,266.8 212,260.2C204.3,253.6 209,256.7 200,250.8C191,244.9 196.1,248.4 185,242.6C173.9,236.8 178.9,238 166.7,233.5C154.5,229 160.5,231.2 148.3,229.2C136.1,227.2 142.8,227.5 130,227.6C117.2,227.7 122.2,227.3 110,229.6C97.8,231.9 104.4,230.3 93.3,234.4C82.2,238.5 86.7,236.6 76.7,241.9C66.7,247.2 71.1,244.2 63.3,250.3C55.5,256.4 59.4,253.1 53.3,260.3C47.2,267.5 49.4,265.3 45,272C40.6,278.7 41.8,277.6 40.2,280.4Z" fill="#ab361a" stroke="#3c1106" stroke-width="0.6" stroke-linejoin="round"/>
<path d="M185,237.8C190,241.4 191,241.4 200,248.5C209,255.6 204.3,251.8 212,259C219.7,266.2 219.3,266.5 223,270.2" fill="none" stroke="#14080a" stroke-width="1" stroke-linecap="round"/>
<path d="M38.7,281.7C44.1,284.9 44,285.5 55,291.2C66,296.9 60.6,294.6 71.7,298.8C82.8,303 77.2,301.2 88.3,303.8C99.4,306.4 91.1,305.1 105,306.5C118.9,307.9 118.3,307.6 130,308C141.7,308.4 130,308.9 140,307.8C150,306.7 146.7,308.2 160,304.8C173.3,301.4 166.7,303.7 180,297.6C193.3,291.5 185.7,295.5 200,286.5C214.3,277.5 215.3,275.8 223,270.5C215.3,275.3 214.3,276.6 200,285C185.7,293.5 193.3,289.9 180,295.9C166.7,301.8 173.3,299.6 160,302.8C146.7,306.1 150,304.7 140,305.7C130,306.7 141.7,306.3 130,305.8C118.3,305.3 118.9,305.6 105,304.2C91.1,302.7 99.4,304 88.3,301.4C77.2,298.8 82.8,300.6 71.7,296.4C60.6,292.2 66,293.7 55,288.8C44,283.9 44.1,284.1 38.7,281.7Z" fill="#08080c"/>
</g>
<g font-size="4.9" font-weight="bold" font-style="italic" fill="#0b2e3e" text-anchor="middle"><text x="136" y="148.5">T. THIEBAUT</text><text x="135.5" y="154.5">© 2002</text><text x="158.5" y="291.6">T. THIEBAUT</text><text x="158.5" y="297.6">© 2002</text></g>
<g fill="#32364f" font-size="10.4">
<text x="17" y="55" textLength="69.3" lengthAdjust="spacingAndGlyphs">Position initiale</text>
<text x="31.4" y="175.5" textLength="32.4" lengthAdjust="spacingAndGlyphs">Lentille</text>
<text x="6.3" y="207" textLength="70.2" lengthAdjust="spacingAndGlyphs">Regard du côté</text>
<text x="8.8" y="218.4">temporal</text>
<text x="17.7" y="317.4" textLength="32.4" lengthAdjust="spacingAndGlyphs">Lentille</text>
</g>
<path d="M46,168L57.2,139.7" stroke="#15151c" stroke-width="1" fill="none"/>
<polygon points="59,135 60.5,141 53.8,138.3" fill="#15151c"/>
<path d="M38.3,306.7L71.4,270" stroke="#15151c" stroke-width="1" fill="none"/>
<polygon points="74.7,266.3 74,272.4 68.7,267.6" fill="#15151c"/>
<g fill="none" stroke="#26306e" stroke-width="0.8" stroke-linecap="round">
<path d="M343.3,61.6C351,70.6 350.6,69.2 366.3,88.7C382,108.2 375.9,100.8 390.4,120.1C404.9,139.4 399.3,132.6 409.8,146.7C420.3,160.8 415.9,152.7 421.9,162.4C427.9,172.1 425.3,167.2 427.9,175.7C430.5,184.2 430.4,180.9 429.6,187.8C428.8,194.7 426.9,193.5 425.5,196.3"/>
<path d="M337.3,118.4C342.9,127 342.9,127.6 354.2,144.3C365.5,161 361.4,155.6 371.1,168.5C380.8,181.4 373.5,175 383.2,183C392.9,191 389.6,187.8 400.1,192.6C410.6,197.4 409.8,195.9 414.6,197.5"/>
<ellipse cx="408" cy="176.6" rx="26" ry="16.8" transform="rotate(46 408 176.6)"/>
</g>
<path d="M361.4,112.4L381.7,142.2" stroke="#15151c" stroke-width="1.1" fill="none"/>
<polygon points="385.1,147.2 377.8,144.9 385.7,139.5" fill="#15151c"/>
<path d="M392,225.7C396.2,222.3 394.8,221.6 404.5,215.6C414.2,209.6 410.5,211.7 421,207.8C431.5,203.9 425.7,205.7 436,203.9C446.3,202.1 446.7,202.9 452,202.4C454,200.5 453.2,199.8 458,196.6C462.8,193.4 460.5,194.7 466.5,192.8C472.5,190.9 470,191.7 476,191C482,190.3 478.5,190.1 484.5,190.6C490.5,191.1 487.8,190.6 494,192.6C500.2,194.6 497,193 503,196.7C509,200.4 506.5,198.2 512,203.6C517.5,209 515.7,207.2 519.5,213C523.3,218.8 521.6,215.9 523.5,221C525.4,226.1 524.6,225.9 525.2,228.4C526.6,232.3 525.7,232.6 529.5,240C533.3,247.4 532.1,242.7 536.7,250.7C541.3,258.7 539.8,255.1 543.3,264C546.8,272.9 545.6,270.1 547.3,277.3C549,284.5 548,282.8 548.3,285.6Z" fill="#9eeff5"/>
<path d="M392,225.7C396.2,222.3 394.8,221.6 404.5,215.6C414.2,209.6 410.5,211.7 421,207.8C431.5,203.9 425.7,205.7 436,203.9C446.3,202.1 446.7,202.9 452,202.4C454,200.5 453.2,199.8 458,196.6C462.8,193.4 460.5,194.7 466.5,192.8C472.5,190.9 470,191.7 476,191C482,190.3 478.5,190.1 484.5,190.6C490.5,191.1 487.8,190.6 494,192.6C500.2,194.6 497,193 503,196.7C509,200.4 506.5,198.2 512,203.6C517.5,209 515.7,207.2 519.5,213C523.3,218.8 521.6,215.9 523.5,221C525.4,226.1 524.6,225.9 525.2,228.4C526.6,232.3 525.7,232.6 529.5,240C533.3,247.4 532.1,242.7 536.7,250.7C541.3,258.7 539.8,255.1 543.3,264C546.8,272.9 545.6,270.1 547.3,277.3C549,284.5 548,282.8 548.3,285.6" fill="none" stroke="#26306e" stroke-width="0.8"/>
<path d="M420.8,205.8Q438.5,176.6 478.3,176.2Q443.5,183.5 423,206.8Z" fill="#1fb2b5" stroke="#1fb2b5" stroke-width="0.6"/>
<path d="M486,191Q489.5,184 487,179.5" fill="none" stroke="#15151c" stroke-width="1"/>
<polygon points="483,175.5 490.5,174.8 483.2,183" fill="#15151c"/>
<text x="467.3" y="157.3" font-size="14" fill="#222a5c" textLength="49.4" lengthAdjust="spacingAndGlyphs">Bascule</text>
<g transform="translate(528.3,269.6) rotate(21.4)" font-size="5.3" font-style="italic" font-weight="bold" fill="#0d4f5e" text-anchor="middle"><text x="0" y="0">T. THIEBAUT</text><text x="-2" y="6.3">© 2002</text></g>
<path d="M463,228l2,-1.5m2,0l2,-1.5m2,0.5l3,-1.5m2,1l4,-1" stroke="#6fb2c4" stroke-width="1.1" fill="none" opacity="0.75"/>
<g fill="none" stroke="#26306e" stroke-width="0.8" stroke-linecap="round">
<path d="M48.6,402.2C56.1,411.9 57.6,414.3 71.2,431.2C84.8,448.1 79,440.9 89.3,453C99.6,465.1 95.3,458.5 102,467.5C108.7,476.5 105.4,472.2 109.3,480C113.2,487.8 112.6,484.9 113.8,491C115,497.1 115,493.8 112.9,498.3C110.8,502.8 109.3,502.5 107.5,504.6"/>
<path d="M44,444.3C48.2,450.8 47.6,450 56.7,463.8C65.8,477.6 62.7,474.7 71.2,485.6C79.7,496.5 74.8,490.7 82.1,496.4C89.4,502.1 85.8,499.9 93,502.8C100.2,505.7 100.2,504.3 103.8,505"/>
<ellipse cx="97.6" cy="488.4" rx="19.3" ry="13" transform="rotate(48 97.6 488.4)"/>
</g>
<path d="M62.2,440.3L77.3,462.2" stroke="#15151c" stroke-width="1.1" fill="none"/>
<polygon points="79.9,466 74.2,464.4 80.4,460.1" fill="#15151c"/>
<path d="M105.5,592.5C104.3,590.3 104.3,591.8 102,586C99.7,580.2 100.1,583.7 98.5,575C96.9,566.3 97.7,568.3 97.3,560C96.9,551.7 96.7,556 97.4,550C98.1,544 97.2,548.7 99.4,542C101.6,535.3 101,536.2 104,530C107,523.8 107,525.5 108.5,523.3C109.2,520.9 108.5,520.4 110.5,516C112.5,511.6 110.2,515.3 114.5,510C118.8,504.7 115.9,505.7 123.3,500.2C130.7,494.7 128.8,496.4 136.7,493.5C144.6,490.6 141.5,491.3 147,491.4C152.5,491.5 151.2,492.9 153.3,493.7C157.2,493.4 157.4,492.8 165,492.8C172.6,492.8 169,492.5 176,493.6C183,494.7 179.3,493.8 186,496C192.7,498.2 188.4,496.5 196,500.2C203.6,503.9 200.9,502.1 208.7,507C216.5,511.9 215.9,512.2 219.5,514.8Z" fill="#a9eef5"/>
<path d="M105.5,592.5C104.3,590.3 104.3,591.8 102,586C99.7,580.2 100.1,583.7 98.5,575C96.9,566.3 97.7,568.3 97.3,560C96.9,551.7 96.7,556 97.4,550C98.1,544 97.2,548.7 99.4,542C101.6,535.3 101,536.2 104,530C107,523.8 107,525.5 108.5,523.3C109.2,520.9 108.5,520.4 110.5,516C112.5,511.6 110.2,515.3 114.5,510C118.8,504.7 115.9,505.7 123.3,500.2C130.7,494.7 128.8,496.4 136.7,493.5C144.6,490.6 141.5,491.3 147,491.4C152.5,491.5 151.2,492.9 153.3,493.7C157.2,493.4 157.4,492.8 165,492.8C172.6,492.8 169,492.5 176,493.6C183,494.7 179.3,493.8 186,496C192.7,498.2 188.4,496.5 196,500.2C203.6,503.9 200.9,502.1 208.7,507C216.5,511.9 215.9,512.2 219.5,514.8" fill="none" stroke="#2f5f96" stroke-width="0.8"/>
<path d="M103.6,519.4Q112.6,497.6 146,487.3" fill="none" stroke="#2a52a3" stroke-width="3.7" stroke-linecap="round"/>
<path d="M214,537.3Q206,524.5 186,523.3Q176,523 166,524" fill="none" stroke="#15151c" stroke-width="1"/>
<polygon points="162,524.5 167,520.8 167,528.2" fill="#15151c"/>
<text x="149.6" y="555.6" font-size="10.6" fill="#222a5c" textLength="77.8" lengthAdjust="spacingAndGlyphs">Rotation de l'oeil</text>
<g font-size="3.1" font-weight="bold" font-style="italic" fill="#0d4f5e" text-anchor="middle"><text x="113.2" y="565.2">T. THIEBAUT</text><text x="112.7" y="569.5">© 2002</text></g>
<g>
<g fill="#0a0b16" stroke="#0a0b16" stroke-width="0.6" stroke-linejoin="round">
<path d="M378.3,504C378.6,501.2 377,497.1 376.8,492.3C376.4,490.6 378.4,489.8 379.2,491.4C382,494.1 383.1,497.2 385,498.5Z"/>
<path d="M387.6,496C388.4,491.7 386.9,484.8 387.3,477.2C387.2,475.4 389.3,475 389.9,476.6C393.1,481.9 394.3,487.2 396.6,490Z"/>
<path d="M399.8,488C400.8,482.3 399,473.2 399.5,463.1C399.4,461.3 401.5,460.9 402.1,462.5C406.6,470.2 408.4,477.9 411.6,482Z"/>
<path d="M414.3,481.5C414.7,472.7 411.4,458.4 410.8,442.7C410.6,441 412.6,440.5 413.3,442.1C420.1,456.3 423.8,470.4 428.3,478Z"/>
<path d="M430,478C432.5,470.9 430.8,459.7 433.2,447.2C433.1,445.4 435.2,445 435.8,446.6C442.9,457.1 445.7,468 450.8,473.5Z"/>
<path d="M490.3,478C492.8,468.5 492,452.5 494.7,435.3C494.8,433.6 496.9,433.4 497.3,435.1C502.9,455 504.8,474.1 508.8,485Z"/>
<path d="M511.8,485.5C514.4,477.1 514.6,462.7 517.8,447.5C518.1,445.8 520.1,445.8 520.4,447.5C523.6,466.5 523.8,484.6 526.3,495Z"/>
<path d="M530.3,498C532.4,491.8 532.8,481 535.5,469.8C535.9,468.1 538,468.1 538.1,469.9C539.9,484.3 539.4,498 541,506Z"/>
<path d="M541.2,506C542.8,501.9 543.6,494.5 545.8,487C546.3,485.3 548.4,485.5 548.4,487.3C548.7,496.6 547.5,505.3 548,510.5Z"/>
<path d="M449.6,475L448.7,458Q447.2,437 447.8,428Q448.8,422.6 451.5,425.3Q459,431.5 466,441Q472,448.5 475.8,456.2L488,478Z"/>
</g>
<path d="M365.8,537.5C366.4,532.8 365.1,532.5 367.7,523.3C370.3,514.1 368,518.3 373.6,510C379.2,501.7 377.5,504.8 384.6,498.3C391.7,491.8 389.3,494.4 395,490.5C400.7,486.6 393.9,490.5 401.7,486.7C409.5,482.9 407.2,482.9 418.3,479.2C429.4,475.5 421.1,477.5 435,475.6C448.9,473.7 443.7,473.3 460,473.6C476.3,473.9 469,472.8 484,476.4C499,480 490.8,477.7 505,484.3C519.2,490.9 512.3,486.9 526.7,496.3C541.1,505.7 536.9,502.6 548.3,512.5C559.7,522.4 556.6,521.5 560.8,526C557.2,529.2 558,529.2 550,534.9C542,540.6 546.7,537.7 536.7,543.3C526.7,548.9 531.1,546.9 520,551.6C508.9,556.3 514.4,554.2 503.3,557.5C492.2,560.8 497.8,559.4 486.7,561.6C475.6,563.8 480.6,562.9 470,564.2C459.4,565.5 465,565.2 455,565.4C445,565.6 450,565.7 440,564.9C430,564.1 435,564.9 425,563.1C415,561.3 420,562.8 410,559.6C400,556.4 405,558.1 395,553.6C385,549.1 387.7,550.2 380,546.1C372.3,542 376.7,544.3 372,541.4C367.3,538.5 367.9,538.8 365.8,537.5Z" fill="#fff"/>
<g clip-path="url(#eyeclip4)">
<polygon points="374.2,534.2 381.7,525 383.3,538.3" fill="#f4a3a4"/>
<g clip-path="url(#iris4)">
<rect x="408.8" y="463.1" width="102.8" height="102.8" fill="#8fd2e8"/>
<g filter="url(#soft)" stroke="#a9e3f1" stroke-width="1.35" stroke-linejoin="round">
<polygon points="458.9,468.8 455,461.4 457.9,453.4 466.2,454.6 467.2,463.2 465.2,469.6 464.1,470.8" fill="#1873a2"/>
<polygon points="466.2,454.5 467,454.3 473.1,454.5 473.1,461.7 467.2,463.2 466.2,454.6" fill="#126b9d"/>
<polygon points="473.1,461.7 482.3,462.1 482.1,454.8 481.3,453.5 473.1,454.5" fill="#0c6498"/>
<polygon points="427.9,473.8 429.9,464.6 433.5,456.9 441.6,462.1 432.8,473.1" fill="#3494ba"/>
<polygon points="432.8,473.1 435.4,473.9 446.8,472.5 447.1,472 443.8,462.1 441.6,462.1" fill="#207ca9"/>
<polygon points="453.3,471.2 447.1,472 443.8,462.1 444.8,461.2 455,461.4 458.9,468.8" fill="#0a6296"/>
<polygon points="473.1,461.7 482.3,462.1 484.1,467.6 465.2,469.6 467.2,463.2" fill="#1772a2"/>
<polygon points="443,483.5 435.4,473.9 446.8,472.5 446.9,480.8" fill="#2684af"/>
<polygon points="453.3,471.2 447.1,472 446.8,472.5 446.9,480.8 452.8,482.8 453.8,482.6 453.9,482.5" fill="#1e7aa8"/>
<polygon points="453.3,471.2 453.9,482.5 464.9,475.4 464.1,470.8 458.9,468.8" fill="#3999be"/>
<polygon points="464.1,470.8 465.2,469.6 484.1,467.6 484.7,468.3 484,475.9 476,478.5 466.3,477.4 464.9,475.4" fill="#2c8ab3"/>
<polygon points="484,475.9 484.7,468.3 488.4,467.5 501.3,474.4 501.8,476.5 493.1,485.9 486.1,479.7" fill="#3595bb"/>
<polygon points="421.9,472.1 418.7,471.4 418.1,471.5 410.6,478.9 410.4,484 411.2,486.7 416.4,486.8 423.2,483.1 425.8,479.1 426.1,475" fill="#0a6296"/>
<polygon points="427.9,473.8 426.1,475 425.8,479.1 436.6,487.3 442.4,484.5 443,483.5 435.4,473.9 432.8,473.1" fill="#2683ae"/>
<polygon points="458.7,493.6 454.9,483.6 464.6,488.6 461.6,493.4" fill="#10699b"/>
<polygon points="454.9,483.6 453.8,482.6 453.9,482.5 464.9,475.4 466.3,477.4 466.6,486.7 464.6,488.6" fill="#0a6396"/>
<polygon points="466.6,486.7 470.1,488.2 475.6,486 476,478.5 466.3,477.4" fill="#136d9e"/>
<polygon points="478.6,487.1 486.1,479.7 484,475.9 476,478.5 475.6,486" fill="#0a6296"/>
<polygon points="493.6,489.4 493.1,485.9 501.8,476.5 509,478.8 508.9,488.5 501.1,490.2 493.7,489.5" fill="#3190b7"/>
<polygon points="411.2,486.7 409.3,488.1 408.3,493.6 411.9,497.8 418.2,494.1 416.4,486.8" fill="#2380ac"/>
<polygon points="416.4,486.8 418.2,494.1 422.6,499.6 429.5,500.4 429.5,500.3 423.2,483.1" fill="#2380ac"/>
<polygon points="423.2,483.1 429.5,500.3 435.6,494.5 436.6,487.3 425.8,479.1" fill="#1d79a7"/>
<polygon points="442.4,484.5 436.6,487.3 435.6,494.5 442,495.8 447.2,492.1" fill="#3090b7"/>
<polygon points="443,483.5 446.9,480.8 452.8,482.8 450.9,492.8 447.2,492.1 442.4,484.5" fill="#3494ba"/>
<polygon points="458.7,493.6 453.3,495.2 450.9,492.8 452.8,482.8 453.8,482.6 454.9,483.6" fill="#227fab"/>
<polygon points="461.6,493.4 465.8,500.8 468.6,501.8 474.5,495.1 470.1,488.2 466.6,486.7 464.6,488.6" fill="#136d9e"/>
<polygon points="474.5,495.1 470.1,488.2 475.6,486 478.6,487.1 480.7,494.7 480.5,494.9" fill="#3a9bbf"/>
<polygon points="480.7,494.7 492.6,490 493.6,489.4 493.1,485.9 486.1,479.7 478.6,487.1" fill="#2886b0"/>
<polygon points="513,491.9 508.9,488.5 501.1,490.2 506.7,498.8 512.9,498.5 513.3,498.1" fill="#2b8ab3"/>
<polygon points="401.6,503.4 404.8,496.4 408.3,493.6 411.9,497.8 413.7,504 412.4,506.4 409.7,507.6" fill="#2a88b2"/>
<polygon points="413.7,504 422.6,499.6 418.2,494.1 411.9,497.8" fill="#1a75a4"/>
<polygon points="436.4,505.3 429.6,500.8 429.5,500.4 429.5,500.3 435.6,494.5 442,495.8 444.2,500.3 439,505.8" fill="#3595bb"/>
<polygon points="450.9,492.8 453.3,495.2 452.4,498.9 449.9,501.8 444.2,500.3 442,495.8 447.2,492.1" fill="#0a6296"/>
<polygon points="458.7,493.6 453.3,495.2 452.4,498.9 459.9,504.6 465.8,500.8 461.6,493.4" fill="#1872a2"/>
<polygon points="468.6,501.8 474.5,495.1 480.5,494.9 482,502.9 481.6,503.4 469.1,502.5" fill="#3ea0c3"/>
<polygon points="482,502.9 486.9,503.3 492.6,490 480.7,494.7 480.5,494.9" fill="#3d9fc2"/>
<polygon points="487.2,503.6 496.8,498.7 493.7,489.5 493.6,489.4 492.6,490 486.9,503.3" fill="#1873a2"/>
<polygon points="496.8,498.7 499.1,502.8 506.7,498.8 501.1,490.2 493.7,489.5" fill="#0c6498"/>
<polygon points="422.9,513 422.2,513.2 412.4,506.4 413.7,504 422.6,499.6 429.5,500.4 429.6,500.8 426.3,509.9" fill="#1670a0"/>
<polygon points="435.1,516.5 436.4,505.3 429.6,500.8 426.3,509.9" fill="#3d9fc2"/>
<polygon points="439,505.8 444.2,500.3 449.9,501.8 449.7,506.1 448.8,507.8 446.9,509.3 442.7,509" fill="#3090b7"/>
<polygon points="457,514.8 448.8,507.8 449.7,506.1 458.8,507.7 459.6,512.5" fill="#0b6397"/>
<polygon points="459.9,504.6 458.8,507.7 449.7,506.1 449.9,501.8 452.4,498.9" fill="#1670a0"/>
<polygon points="468.6,501.8 465.8,500.8 459.9,504.6 458.8,507.7 459.6,512.5 462.8,513.1 469.9,506.8 469.1,502.5" fill="#3898bd"/>
<polygon points="469.1,502.5 469.9,506.8 474.8,511.9 481.2,504.8 481.6,503.4" fill="#2481ad"/>
<polygon points="481.6,503.4 481.2,504.8 485.8,513.5 492.5,509.8 487.2,503.6 486.9,503.3 482,502.9" fill="#10699b"/>
<polygon points="487.2,503.6 492.5,509.8 493.4,509.9 499,505.3 499.1,502.8 496.8,498.7" fill="#106a9b"/>
<polygon points="512.9,498.5 510.5,509 510.3,509.2 504.7,509.1 499,505.3 499.1,502.8 506.7,498.8" fill="#3fa1c4"/>
<polygon points="513.3,498.1 512.9,498.5 510.5,509 522.3,507.9 522.2,500.7" fill="#2785af"/>
<polygon points="400.3,518.8 398.5,518 399.4,503.8 401.6,503.4 409.7,507.6 409.2,510.1 400.4,518.8" fill="#2e8db5"/>
<polygon points="400.4,518.8 408.1,521.7 412.4,517.1 409.2,510.1" fill="#1a75a4"/>
<polygon points="409.7,507.6 412.4,506.4 422.2,513.2 418.5,518.9 412.4,517.1 409.2,510.1" fill="#227eaa"/>
<polygon points="435.9,518 426.7,517.8 422.9,513 426.3,509.9 435.1,516.5" fill="#2380ac"/>
<polygon points="435.9,518 437.7,520 437.9,520.1 442.7,509 439,505.8 436.4,505.3 435.1,516.5" fill="#3b9dc0"/>
<polygon points="437.9,520.1 442.7,509 446.9,509.3 448.2,517.1 439.2,521.2" fill="#217daa"/>
<polygon points="446.9,509.3 448.8,507.8 457,514.8 454.4,519.5 448.2,517.1" fill="#116a9c"/>
<polygon points="454.9,521.1 454.4,519.5 457,514.8 459.6,512.5 462.8,513.1 468.7,519.8 468.7,519.9 461.4,522.9" fill="#308fb7"/>
<polygon points="462.8,513.1 469.9,506.8 474.8,511.9 475.3,514.6 468.7,519.8" fill="#3595bb"/>
<polygon points="482.6,518.1 475.3,514.6 474.8,511.9 481.2,504.8 485.8,513.5" fill="#3494ba"/>
<polygon points="493.4,509.9 492.5,509.8 485.8,513.5 482.6,518.1 483.1,519.7 495.2,517.9 495.9,516.5" fill="#40a3c5"/>
<polygon points="499,505.3 493.4,509.9 495.9,516.5 502.2,517.2 504.7,509.1" fill="#41a3c5"/>
<polygon points="513.4,517.7 510.3,509.2 504.7,509.1 502.2,517.2 505.4,521.1 507.5,521.4" fill="#3393b9"/>
<polygon points="517.6,518.9 519.7,517.1 523.4,510.9 523.1,509.6 522.3,507.9 510.5,509 510.3,509.2 513.4,517.7" fill="#1c78a6"/>
<polygon points="400.3,518.8 400.2,530 402.6,532.7 409,523.4 408.1,521.7 400.4,518.8" fill="#2e8db5"/>
<polygon points="409,523.4 415.2,527.4 419.2,524.8 418.5,518.9 412.4,517.1 408.1,521.7" fill="#2e8db5"/>
<polygon points="426.7,517.8 427.2,525 425.4,527.2 419.2,524.8 418.5,518.9 422.2,513.2 422.9,513" fill="#2d8cb4"/>
<polygon points="435.9,518 437.7,520 427.2,525 426.7,517.8" fill="#3393ba"/>
<polygon points="439.2,521.2 448.2,517.1 454.4,519.5 454.9,521.1 452.2,528.1 440.6,526" fill="#3898bd"/>
<polygon points="459.7,532 462.2,527.1 461.4,522.9 454.9,521.1 452.2,528.1 453.7,532.1" fill="#2c8bb3"/>
<polygon points="462.2,527.1 470.3,528.9 471.6,527.9 468.7,519.9 461.4,522.9" fill="#2c8bb4"/>
<polygon points="482.3,526.3 477.4,529.6 471.6,527.9 468.7,519.9 468.7,519.8 475.3,514.6 482.6,518.1 483.1,519.7 483.5,523.9" fill="#43a6c8"/>
<polygon points="494.9,525.3 495.2,517.9 483.1,519.7 483.5,523.9" fill="#2380ab"/>
<polygon points="496.9,527.6 497.5,527.7 505.4,521.1 502.2,517.2 495.9,516.5 495.2,517.9 494.9,525.3" fill="#308fb7"/>
<polygon points="502.6,534.2 497.5,527.7 505.4,521.1 507.5,521.4 510.7,533.8 507.7,534.7" fill="#2885b0"/>
<polygon points="510.7,533.8 507.5,521.4 513.4,517.7 517.6,518.9 518.7,521.7 518.3,525.6 512.2,534.2" fill="#136c9d"/>
<polygon points="409,523.4 415.2,527.4 414.5,529.5 408.8,534.8 402.9,533.4 402.6,532.7" fill="#42a5c6"/>
<polygon points="425.4,527.2 419.2,524.8 415.2,527.4 414.5,529.5 422.1,539 425.4,529.9 425.9,528.3" fill="#1f7ca8"/>
<polygon points="431.9,539.7 425.4,529.9 422.1,539 422.1,541.2 429,542.8" fill="#1872a2"/>
<polygon points="437.9,520.1 439.2,521.2 440.6,526 437.6,534 425.9,528.3 425.4,527.2 427.2,525 437.7,520" fill="#1c78a6"/>
<polygon points="440.6,526 452.2,528.1 453.7,532.1 450.8,539.6 447.5,540.8 438.7,535.2 437.6,534.3 437.6,534" fill="#3191b8"/>
<polygon points="459.7,532 463.5,534.1 470.3,529 470.3,528.9 462.2,527.1" fill="#2d8bb4"/>
<polygon points="477.7,533.9 477.4,529.6 471.6,527.9 470.3,528.9 470.3,529 469.9,539.5 473,539.8" fill="#1e7aa7"/>
<polygon points="481.2,537.6 487,538.6 489.5,537.2 489.6,535 482.3,526.3 477.4,529.6 477.7,533.9" fill="#3291b8"/>
<polygon points="496.9,527.6 489.6,535 482.3,526.3 483.5,523.9 494.9,525.3" fill="#207ca9"/>
<polygon points="422.1,541.2 421.3,541.7 410.8,538.4 408.8,534.8 414.5,529.5 422.1,539" fill="#2b89b3"/>
<polygon points="425.9,528.3 425.4,529.9 431.9,539.7 437.6,534.3 437.6,534" fill="#3fa2c4"/>
<polygon points="447.3,541.2 447.5,540.8 438.7,535.2 437.2,547.5 440.3,547.1" fill="#42a4c6"/>
<polygon points="456.2,543.1 450.8,539.6 453.7,532.1 459.7,532 463.5,534.1 464.4,537.9" fill="#2d8cb4"/>
<polygon points="464.4,537.9 463.5,534.1 470.3,529 469.9,539.5 467.6,540.1" fill="#2d8bb4"/>
<polygon points="481.2,537.6 479.8,541.9 474.6,542.4 473,539.8 477.7,533.9" fill="#3fa1c4"/>
<polygon points="481.2,537.6 487,538.6 483.7,548 479.8,541.9" fill="#3190b8"/>
<polygon points="502.6,534.2 497.5,527.7 496.9,527.6 489.6,535 489.5,537.2 495.9,541.9" fill="#126c9d"/>
<polygon points="502.6,534.2 495.9,541.9 496,542.6 505.1,546.2 507.7,534.7" fill="#146d9e"/>
<polygon points="417.1,550.4 421.3,541.7 410.8,538.4 408.9,543.4 416.6,550.8" fill="#3292b9"/>
<polygon points="429,542.8 431.6,547.5 425,554.1 417.1,550.4 421.3,541.7 422.1,541.2" fill="#2683ae"/>
<polygon points="431.9,539.7 437.6,534.3 438.7,535.2 437.2,547.5 433.6,548.8 431.6,547.5 429,542.8" fill="#3191b8"/>
<polygon points="448.5,553.3 447.3,541.2 440.3,547.1 444.2,555.2 446.4,556.1" fill="#40a3c5"/>
<polygon points="448.5,553.3 447.3,541.2 447.5,540.8 450.8,539.6 456.2,543.1 459.3,548.8 457.2,551.8" fill="#1e7aa8"/>
<polygon points="463.7,549.1 459.3,548.8 456.2,543.1 464.4,537.9 467.6,540.1 465.9,548.9" fill="#1a75a3"/>
<polygon points="474.6,542.4 474.6,548.4 469.8,551.1 465.9,548.9 467.6,540.1 469.9,539.5 473,539.8" fill="#146e9f"/>
<polygon points="479.8,541.9 483.7,548 483.8,550.5 474.6,548.4 474.6,542.4" fill="#136d9e"/>
<polygon points="483.7,548 483.8,550.5 484.1,550.8 491.7,553 496,542.6 495.9,541.9 489.5,537.2 487,538.6" fill="#3899be"/>
<polygon points="496,542.6 491.7,553 493.8,556.1 501.5,557.7 503.3,557.5 508.5,551.1 505.1,546.2" fill="#3697bc"/>
<polygon points="517.1,543.2 511.9,550.2 508.5,551.1 505.1,546.2 507.7,534.7 510.7,533.8 512.2,534.2 518.2,540" fill="#46aaca"/>
<polygon points="415.6,553.2 423.3,560.3 426.5,558.5 425,554.1 417.1,550.4 416.6,550.8 415.8,551.7" fill="#1b76a5"/>
<polygon points="426.5,558.5 432.6,561.4 435.5,555.4 433.6,548.8 431.6,547.5 425,554.1" fill="#4aaecd"/>
<polygon points="440.3,547.1 437.2,547.5 433.6,548.8 435.5,555.4 444.2,555.2" fill="#45a8c9"/>
<polygon points="447.1,559.9 446.4,556.1 448.5,553.3 457.2,551.8 457.6,554.9 453.3,563.6 451.9,563.7" fill="#1a75a4"/>
<polygon points="457.6,554.9 462.7,559.3 462.9,559.3 463.7,549.1 459.3,548.8 457.2,551.8" fill="#2683ae"/>
<polygon points="470.7,557.4 469.8,551.1 465.9,548.9 463.7,549.1 462.9,559.3 465.5,560.5" fill="#1c77a5"/>
<polygon points="470.7,557.4 469.8,551.1 474.6,548.4 483.8,550.5 484.1,550.8 477.5,560.5 474.2,559.8" fill="#2c8bb4"/>
<polygon points="440.4,564.5 433.4,564.2 432.6,561.4 435.5,555.4 444.2,555.2 446.4,556.1 447.1,559.9" fill="#1b76a4"/>
<polygon points="448.7,571.6 451.9,563.7 447.1,559.9 440.4,564.5 444.8,573.2" fill="#2b89b3"/>
<polygon points="453.3,563.6 454.6,564.1 462.7,559.3 457.6,554.9" fill="#4bafce"/>
<polygon points="465.5,560.5 462.9,559.3 462.7,559.3 454.6,564.1 460.6,569.1 463,569.7 464.6,567.6" fill="#40a2c4"/>
<polygon points="470.7,557.4 465.5,560.5 464.6,567.6 470.6,566.7 474.2,559.8" fill="#3292b9"/>
<polygon points="477.5,560.5 484.1,550.8 491.7,553 493.8,556.1 488.6,566.4 486.5,567 481.7,566.9" fill="#4eb3d1"/>
<polygon points="448.7,571.6 453.4,575 460.6,569.1 454.6,564.1 453.3,563.6 451.9,563.7" fill="#1f7ba8"/>
<polygon points="464.6,567.6 463,569.7 463.3,570.4 476.5,573.8 476.9,572.7 470.6,566.7" fill="#1e7aa7"/>
<polygon points="474.2,559.8 477.5,560.5 481.7,566.9 476.9,572.7 470.6,566.7" fill="#3ea0c3"/>
</g>
<rect x="408.8" y="463.1" width="102.8" height="102.8" filter="url(#water)" opacity="0.30"/>
<rect x="408.8" y="463.1" width="102.8" height="102.8" fill="url(#irisg)"/>
</g>
<circle cx="460.2" cy="514.5" r="50.4" fill="#ffffff" fill-opacity="0.28"/>
<circle cx="460.8" cy="518" r="42.8" fill="#60e6a8" fill-opacity="0.80" stroke="#0b1a12" stroke-width="1.1"/>
<circle cx="457.7" cy="517" r="13.6" fill="#479f68"/>
</g>
<path d="M365.8,537.5C366.4,532.8 365.1,532.5 367.7,523.3C370.3,514.1 368,518.3 373.6,510C379.2,501.7 377.5,504.8 384.6,498.3C391.7,491.8 389.3,494.4 395,490.5C400.7,486.6 393.9,490.5 401.7,486.7C409.5,482.9 407.2,482.9 418.3,479.2C429.4,475.5 421.1,477.5 435,475.6C448.9,473.7 443.7,473.3 460,473.6C476.3,473.9 469,472.8 484,476.4C499,480 490.8,477.7 505,484.3C519.2,490.9 512.3,486.9 526.7,496.3C541.1,505.7 536.9,502.6 548.3,512.5C559.7,522.4 556.6,521.5 560.8,526C556.6,522.2 555.2,519.9 548.3,513.9C541.4,507.9 547.2,512.8 540,508.4C532.8,504 538.4,506.7 526.7,500.8C515,494.9 519.5,496.3 505,490.8C490.5,485.3 498.3,487.3 483.3,484.3C468.3,481.3 473.3,482.6 460,481.8C446.7,481 454.4,480.9 443.3,482C432.2,483.1 437.8,482.4 426.7,485.2C415.6,488 421.1,484.8 410,490.3C398.9,495.8 402.7,494 393.3,501.7C383.9,509.4 388.4,505.5 381.7,513.3C375,521.1 378,517.5 373.3,525C368.6,532.5 369.4,532.2 367.5,535.8Z" fill="#ab361a" stroke="#3c1106" stroke-width="0.6" stroke-linejoin="round"/>
<path d="M505,484.3C512.2,488.3 512.3,486.9 526.7,496.3C541.1,505.7 536.9,502.6 548.3,512.5C559.7,522.4 556.6,521.5 560.8,526" fill="none" stroke="#14080a" stroke-width="1" stroke-linecap="round"/>
<path d="M365.8,537.5C367.9,538.8 367.3,538.5 372,541.4C376.7,544.3 372.3,542 380,546.1C387.7,550.2 385,549.1 395,553.6C405,558.1 400,556.4 410,559.6C420,562.8 415,561.3 425,563.1C435,564.9 430,564.1 440,564.9C450,565.7 445,565.6 455,565.4C465,565.2 459.4,565.5 470,564.2C480.6,562.9 475.6,563.8 486.7,561.6C497.8,559.4 492.2,560.8 503.3,557.5C514.4,554.2 508.9,556.3 520,551.6C531.1,546.9 526.7,548.9 536.7,543.3C546.7,537.7 542,540.6 550,534.9C558,529.2 557.2,529.2 560.8,526.3C557.2,528.7 558,528.4 550,533.5C542,538.7 546.7,536.3 536.7,541.7C526.7,547.1 531.1,545.2 520,549.8C508.9,554.4 514.4,552.3 503.3,555.6C492.2,558.8 497.8,557.4 486.7,559.5C475.6,561.7 480.6,560.8 470,562C459.4,563.2 465,563 455,563.2C445,563.3 450,563.4 440,562.6C430,561.8 435,562.5 425,560.8C415,559 420,560.4 410,557.2C400,554 405,555.7 395,551.2C385,546.7 387.7,547.8 380,543.7C372.3,539.6 376.7,541.1 372,539C367.3,536.9 367.9,538 365.8,537.5Z" fill="#08080c"/>
</g>
<text x="312.7" y="429.8" font-size="11.2" fill="#32364f" textLength="105.6" lengthAdjust="spacingAndGlyphs">Lentille repositionnée</text>
<text x="400.8" y="590.3" font-size="11" fill="#32364f" textLength="35" lengthAdjust="spacingAndGlyphs">Lentille</text>
<path d="M436.3,580L453.2,543.5" stroke="#15151c" stroke-width="1" fill="none"/>
<polygon points="455.3,539 456.8,545.2 449.6,541.9" fill="#15151c"/>
<g font-size="3.3" font-weight="bold" font-style="italic" fill="#123524" text-anchor="middle"><text x="454.7" y="488.3">T. THIEBAUT</text><text x="454.7" y="492.6">© 2002</text></g>
</svg></body></html>
